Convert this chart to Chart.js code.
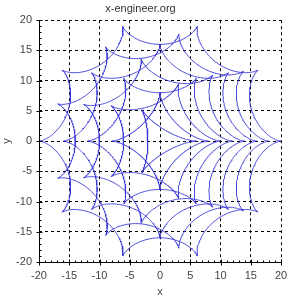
<!DOCTYPE html>
<html>
<head>
<meta charset="utf-8">
<script src="https://cdn.jsdelivr.net/npm/chart.js@4"></script>
<style>
  html, body { margin: 0; padding: 0; background: #fff; }
  #wrap { width: 290px; height: 300px; }
</style>
</head>
<body>
<div id="wrap"><canvas id="webChart" width="290" height="300"></canvas></div>
<script>
// hypocycloids: rolling circle radius and the fixed circle radii
const rollRadius = 2;
const fixedRadii = [6, 8, 10, 12, 14, 16, 18, 20];
const xTicks = [-20, -15, -10, -5, 0, 5, 10, 15, 20];
const yTicks = [-20, -15, -10, -5, 0, 5, 10, 15, 20];
const stepsPerTurn = 720;

function hypocycloid(R, r) {
    const pts = [];
    for (let i = 0; i <= stepsPerTurn; i++) {
        const t = 2 * Math.PI * i / stepsPerTurn;
        pts.push({
            x: (R - r) * Math.cos(t) + r * Math.cos((R - r) / r * t),
            y: (R - r) * Math.sin(t) - r * Math.sin((R - r) / r * t)
        });
    }
    return pts;
}

const datasets = fixedRadii.map(R => ({
    label: 'R=' + R,
    data: hypocycloid(R, rollRadius),
    showLine: true,
    borderColor: 'rgba(55, 55, 215, 0.9)',
    borderWidth: 1,
    pointRadius: 0,
    fill: false,
    tension: 0
}));

// solid left/bottom axis lines plus tick marks (major cross the axis, minor point inwards)
const tickMarks = {
    id: 'tickMarks',
    afterDraw(chart) {
        const ctx = chart.ctx;
        const xs = chart.scales.x, ys = chart.scales.y;
        ctx.save();
        ctx.strokeStyle = '#000';
        ctx.lineWidth = 1;
        ctx.beginPath();
        const b = Math.round(ys.getPixelForValue(-20)) + 0.5;
        const l = Math.round(xs.getPixelForValue(-20)) + 0.5;
        ctx.moveTo(l, Math.round(ys.getPixelForValue(20)));
        ctx.lineTo(l, b);
        ctx.lineTo(Math.round(xs.getPixelForValue(20)) + 1, b);
        for (let v = -20; v <= 20; v++) {
            const major = v % 5 === 0;
            const px = Math.round(xs.getPixelForValue(v)) + 0.5;
            ctx.moveTo(px, major ? b + 3 : b);
            ctx.lineTo(px, major ? b - 3 : b - 2);
            const py = Math.round(ys.getPixelForValue(v)) + 0.5;
            ctx.moveTo(major ? l - 3 : l, py);
            ctx.lineTo(major ? l + 3 : l + 2, py);
        }
        ctx.stroke();
        ctx.restore();
    }
};

const ctx = document.getElementById('webChart').getContext('2d');
new Chart(ctx, {
    type: 'scatter',
    data: { datasets: datasets },
    plugins: [tickMarks],
    options: {
        responsive: false,
        animation: false,
        layout: { padding: { left: 0, right: 9, top: 0, bottom: 0 } },
        plugins: {
            legend: { display: false },
            tooltip: { enabled: false },
            title: {
                display: true,
                text: 'x-engineer.org',
                color: '#333',
                font: { family: 'Liberation Sans', size: 11, weight: 'normal' },
                padding: { top: 2, bottom: 5 }
            }
        },
        scales: {
            x: {
                type: 'linear',
                min: -20,
                max: 20,
                afterBuildTicks: s => { s.ticks = xTicks.map(v => ({ value: v })); },
                afterFit: s => { s.height = 38; s.paddingLeft = 0; s.paddingRight = 0; },
                ticks: {
                    color: '#444',
                    font: { family: 'Liberation Sans', size: 11 },
                    padding: 7,
                    maxRotation: 0
                },
                grid: { color: '#000', lineWidth: 1, drawTicks: false },
                border: { display: false, dash: [3, 3] },
                title: {
                    display: true,
                    text: 'x',
                    color: '#444',
                    font: { family: 'Liberation Sans', size: 11 },
                    padding: { top: 0, bottom: 1 }
                }
            },
            y: {
                type: 'linear',
                min: -20,
                max: 20,
                afterBuildTicks: s => { s.ticks = yTicks.map(v => ({ value: v })); },
                afterFit: s => { s.width = 39; s.paddingTop = 0; s.paddingBottom = 0; },
                ticks: {
                    color: '#444',
                    font: { family: 'Liberation Sans', size: 11 },
                    padding: 7
                },
                grid: { color: '#000', lineWidth: 1, drawTicks: false },
                border: { display: false, dash: [3, 3] },
                title: {
                    display: true,
                    text: 'y',
                    color: '#444',
                    font: { family: 'Liberation Sans', size: 11 },
                    padding: { top: 0, bottom: 0 }
                }
            }
        }
    }
});
</script>
</body>
</html>
